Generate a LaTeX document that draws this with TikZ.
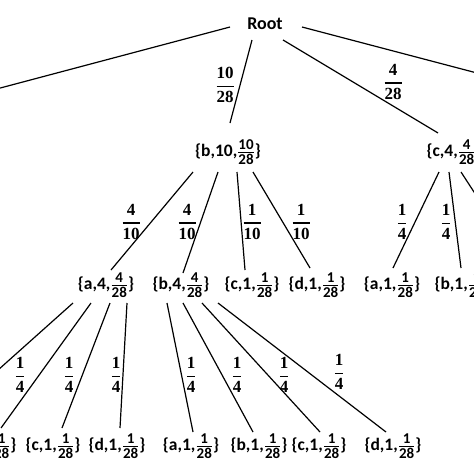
\documentclass[tikz,border=0pt]{standalone}
\usepackage{amsmath}
\usepackage[no-math]{fontspec}
\setmainfont{Carlito}
\newfontfamily\probfont{Liberation Serif}
% fraction inside a tree node, in the text font
\newcommand{\nodefrac}[2]{$\genfrac{}{}{1.1pt}{}{\mbox{\fontsize{15}{15}\selectfont\bfseries #1}}{\mbox{\fontsize{15}{15}\selectfont\bfseries #2}}$}
% fraction written on an edge
\newcommand{\probfrac}[2]{$\genfrac{}{}{1.3pt}{0}{\mbox{\probfont\bfseries #1}}{\mbox{\probfont\bfseries #2}}$}
\begin{document}
\begin{tikzpicture}[x=1pt,y=-1pt,line width=1.2pt,
    every node/.style={font=\fontsize{17.5}{20}\selectfont\bfseries,inner sep=0pt},
    prob/.style={font=\fontsize{17}{20}\selectfont}]
  \useasboundingbox (0,0) rectangle (474,474);
  \fill[white] (0,0) rectangle (474,474);
  \clip (0,0) rectangle (474,474);
  \draw
    (265,24) node[font=\fontsize{18}{20}\selectfont\bfseries] (root){Root}
    (228,152) node (b){\{b,10,\nodefrac{10}{28}\}}
    (454,152) node (c){\{c,4,\nodefrac{4}{28}\}}
    (106,285) node (ba){\{a,4,\nodefrac{4}{28}\}}
    (181,285) node (bb){\{b,4,\nodefrac{4}{28}\}}
    (252,285) node (bc){\{c,1,\nodefrac{1}{28}\}}
    (317,285) node (bd){\{d,1,\nodefrac{1}{28}\}}
    (392,285) node (ca){\{a,1,\nodefrac{1}{28}\}}
    (463,285) node (cb){\{b,1,\nodefrac{1}{28}\}}
    (-12,446) node (bab){\{b,1,\nodefrac{1}{28}\}}
    (53,446) node (bac){\{c,1,\nodefrac{1}{28}\}}
    (117,446) node (bad){\{d,1,\nodefrac{1}{28}\}}
    (191,446) node (bba){\{a,1,\nodefrac{1}{28}\}}
    (259,446) node (bbb){\{b,1,\nodefrac{1}{28}\}}
    (319,446) node (bbc){\{c,1,\nodefrac{1}{28}\}}
    (393,446) node (bbd){\{d,1,\nodefrac{1}{28}\}};
  % children lying outside the picture
  \coordinate (a) at (-60,104);
  \coordinate (d) at (534,88);
  \coordinate (cc) at (500,232);
  \coordinate (baa) at (-40,404);
  \begin{scope}[-]
    \draw ([shift={(-35,3)}]root.center) to (a);
    \draw ([shift={(-13,16)}]root.center) to ([shift={(2,-29)}]b.center);
    \draw ([shift={(18,16)}]root.center) to ([shift={(-16,-19)}]c.center);
    \draw ([shift={(37,3)}]root.center) to (d);
    \draw ([shift={(-35,20)}]b.center) to ([shift={(5,-15)}]ba.center);
    \draw ([shift={(-10,20)}]b.center) to ([shift={(2,-12)}]bb.center);
    \draw ([shift={(9,20)}]b.center) to ([shift={(-7,-15)}]bc.center);
    \draw ([shift={(25,20)}]b.center) to ([shift={(-7,-17)}]bd.center);
    \draw ([shift={(-15,20)}]c.center) to ([shift={(1,-17)}]ca.center);
    \draw ([shift={(-5,20)}]c.center) to ([shift={(-2,-17)}]cb.center);
    \draw ([shift={(7,20)}]c.center) to (cc);
    \draw ([shift={(-33,18)}]ba.center) to (baa);
    \draw ([shift={(-15,18)}]ba.center) to ([shift={(13,-18)}]bab.center);
    \draw ([shift={(4,18)}]ba.center) to ([shift={(9,-18)}]bac.center);
    \draw ([shift={(21,18)}]ba.center) to ([shift={(3,-18)}]bad.center);
    \draw ([shift={(-14,18)}]bb.center) to ([shift={(2,-14)}]bba.center);
    \draw ([shift={(2,18)}]bb.center) to ([shift={(-6,-14)}]bbb.center);
    \draw ([shift={(21,18)}]bb.center) to ([shift={(1,-14)}]bbc.center);
    \draw ([shift={(37,18)}]bb.center) to ([shift={(-7,-14)}]bbd.center);
  \end{scope}
  % probabilities on the edges
  \node[prob] (pb) at (225,85) {\probfrac{10}{28}};
  \node[prob] (pc) at (393,82) {\probfrac{4}{28}};
  \node[prob] (pba) at (131,222) {\probfrac{4}{10}};
  \node[prob] (pbb) at (187,222) {\probfrac{4}{10}};
  \node[prob] (pbc) at (252,222) {\probfrac{1}{10}};
  \node[prob] (pbd) at (301,222) {\probfrac{1}{10}};
  \node[prob] (pca) at (402,222) {\probfrac{1}{4}};
  \node[prob] (pcb) at (446,222) {\probfrac{1}{4}};
  \node[prob] (pbab) at (20,375) {\probfrac{1}{4}};
  \node[prob] (pbac) at (69,375) {\probfrac{1}{4}};
  \node[prob] (pbad) at (116,375) {\probfrac{1}{4}};
  \node[prob] (pbba) at (191,375) {\probfrac{1}{4}};
  \node[prob] (pbbb) at (237,375) {\probfrac{1}{4}};
  \node[prob] (pbbc) at (284,375) {\probfrac{1}{4}};
  \node[prob] (pbbd) at (339,372) {\probfrac{1}{4}};
\end{tikzpicture}
\end{document}
